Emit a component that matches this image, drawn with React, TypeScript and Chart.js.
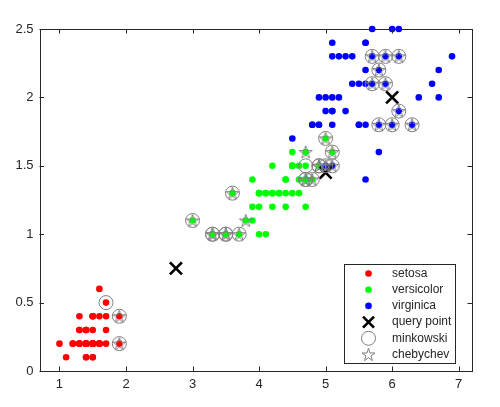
import React, { useEffect, useRef } from "react";
import { Chart, registerables } from "chart.js";

Chart.register(...registerables);

// Fisher iris: petal length (cm) and petal width (cm)
const setosaLength = [1.4,1.4,1.3,1.5,1.4,1.7,1.4,1.5,1.4,1.5,1.5,1.6,1.4,1.1,1.2,1.5,1.3,1.4,1.7,1.5,1.7,1.5,1.0,1.7,1.9,1.6,1.6,1.5,1.4,1.6,1.6,1.5,1.5,1.4,1.5,1.2,1.3,1.4,1.3,1.5,1.3,1.3,1.3,1.6,1.9,1.4,1.6,1.4,1.5,1.4];
const setosaWidth = [0.2,0.2,0.2,0.2,0.2,0.4,0.3,0.2,0.2,0.1,0.2,0.2,0.1,0.1,0.2,0.4,0.4,0.3,0.3,0.3,0.2,0.4,0.2,0.5,0.2,0.2,0.4,0.2,0.2,0.2,0.2,0.4,0.1,0.2,0.2,0.2,0.2,0.1,0.2,0.2,0.3,0.3,0.2,0.6,0.4,0.3,0.2,0.2,0.2,0.2];
const versicolorLength = [4.7,4.5,4.9,4.0,4.6,4.5,4.7,3.3,4.6,3.9,3.5,4.2,4.0,4.7,3.6,4.4,4.5,4.1,4.5,3.9,4.8,4.0,4.9,4.7,4.3,4.4,4.8,5.0,4.5,3.5,3.8,3.7,3.9,5.1,4.5,4.5,4.7,4.4,4.1,4.0,4.4,4.6,4.0,3.3,4.2,4.2,4.2,4.3,3.0,4.1];
const versicolorWidth = [1.4,1.5,1.5,1.3,1.5,1.3,1.6,1.0,1.3,1.4,1.0,1.5,1.0,1.4,1.3,1.4,1.5,1.0,1.5,1.1,1.8,1.3,1.5,1.2,1.3,1.4,1.4,1.7,1.5,1.0,1.1,1.0,1.2,1.6,1.5,1.6,1.5,1.3,1.3,1.3,1.2,1.4,1.2,1.0,1.3,1.2,1.3,1.3,1.1,1.3];
const virginicaLength = [6.0,5.1,5.9,5.6,5.8,6.6,4.5,6.3,5.8,6.1,5.1,5.3,5.5,5.0,5.1,5.3,5.5,6.7,6.9,5.0,5.7,4.9,6.7,4.9,5.7,6.0,4.8,4.9,5.6,5.8,6.1,6.4,5.6,5.1,5.6,6.1,5.6,5.5,4.8,5.4,5.6,5.1,5.1,5.9,5.7,5.2,5.0,5.2,5.4,5.1];
const virginicaWidth = [2.5,1.9,2.1,1.8,2.2,2.1,1.7,1.8,1.8,2.5,2.0,1.9,2.1,2.0,2.4,2.3,1.8,2.2,2.3,1.5,2.3,2.0,2.0,1.8,2.1,1.8,1.8,1.8,2.1,1.6,1.9,2.0,2.2,1.5,1.4,2.3,2.4,1.8,1.8,2.1,2.4,2.3,1.9,2.3,2.5,2.3,1.9,2.0,2.3,1.8];

// query points
const queryX = [5, 6, 2.75];
const queryY = [1.45, 2, 0.75];

// nearest neighbours (k = 10 per query point)
const minkowskiX = [5.0,4.9,4.9,5.1,5.1,4.8,5.0,4.7,4.7,4.7, 5.9,6.1,5.8,5.8,6.0,5.7,5.9,6.1,5.7,6.3, 3.0,3.3,3.3,3.5,3.5,3.7,3.6,1.9,1.9,1.7];
const minkowskiY = [1.5,1.5,1.5,1.5,1.6,1.4,1.7,1.4,1.4,1.5, 2.1,1.9,2.2,1.8,1.8,2.3,2.3,2.3,2.1,1.8, 1.1,1.0,1.0,1.0,1.0,1.0,1.3,0.4,0.2,0.5];
const chebychevX = [5.0,4.9,4.9,5.1,5.1,4.8,5.0,4.7,4.7,4.7, 5.9,6.1,5.8,5.8,6.0,5.7,5.9,6.1,5.7,6.3, 3.0,3.3,3.3,3.5,3.5,3.7,3.6,1.9,1.9,3.8];
const chebychevY = [1.5,1.5,1.5,1.5,1.6,1.4,1.7,1.4,1.4,1.6, 2.1,1.9,2.2,1.8,1.8,2.3,2.3,2.3,2.1,1.8, 1.1,1.0,1.0,1.0,1.0,1.0,1.3,0.4,0.2,1.1];

const xTicks = [1, 2, 3, 4, 5, 6, 7];
const yTicks = [0, 0.5, 1, 1.5, 2, 2.5];
const legendLabels = ["setosa", "versicolor", "virginica", "query point", "minkowski", "chebychev"];

const FONT = '"Liberation Sans", Arial, Helvetica, sans-serif';
const AXIS_COLOR = "#262626";
const GRAY = "#808080";

const pts = (xs: number[], ys: number[]) => xs.map((x, i) => ({ x, y: ys[i] }));

function drawPentagram(ctx: CanvasRenderingContext2D, cx: number, cy: number, r: number) {
  const inner = r * 0.382;
  ctx.beginPath();
  for (let i = 0; i < 10; i++) {
    const rad = i % 2 === 0 ? r : inner;
    const a = -Math.PI / 2 + (i * Math.PI) / 5;
    const px = cx + rad * Math.cos(a);
    const py = cy + rad * Math.sin(a);
    if (i === 0) ctx.moveTo(px, py);
    else ctx.lineTo(px, py);
  }
  ctx.closePath();
  ctx.stroke();
}

function makeStarImage(): HTMLCanvasElement {
  const c = document.createElement("canvas");
  c.width = 16;
  c.height = 16;
  const g = c.getContext("2d")!;
  g.strokeStyle = GRAY;
  g.lineWidth = 1;
  drawPentagram(g, 8, 8.6, 6.8);
  return c;
}

const framePlugin = {
  id: "matlabFrame",
  afterDatasetsDraw(chart: any) {
    const { ctx, chartArea } = chart;
    const xs = chart.scales.x;
    const ys = chart.scales.y;
    const L = chartArea.left, R = chartArea.right, T = chartArea.top, B = chartArea.bottom;
    ctx.save();
    ctx.strokeStyle = AXIS_COLOR;
    ctx.lineWidth = 1;
    ctx.strokeRect(Math.round(L) + 0.5, Math.round(T) + 0.5, Math.round(R) - Math.round(L), Math.round(B) - Math.round(T));
    const tl = 4.5;
    ctx.beginPath();
    xTicks.forEach((v) => {
      const px = Math.round(xs.getPixelForValue(v)) + 0.5;
      ctx.moveTo(px, B);
      ctx.lineTo(px, B - tl);
      ctx.moveTo(px, T);
      ctx.lineTo(px, T + tl);
    });
    yTicks.forEach((v) => {
      const py = Math.round(ys.getPixelForValue(v)) + 0.5;
      ctx.moveTo(L, py);
      ctx.lineTo(L + tl, py);
      ctx.moveTo(R, py);
      ctx.lineTo(R - tl, py);
    });
    ctx.stroke();

    // legend box
    const bx = 344.5, by = 264.5, bw = 111, bh = 99;
    ctx.fillStyle = "#ffffff";
    ctx.fillRect(bx, by, bw, bh);
    ctx.strokeStyle = AXIS_COLOR;
    ctx.strokeRect(bx, by, bw, bh);
    const mx = 368.5;
    const tx = 392;
    const y0 = 273.5, dy = 16.2;
    ctx.font = `12px ${FONT}`;
    ctx.textBaseline = "middle";
    ctx.textAlign = "left";
    legendLabels.forEach((lab, i) => {
      const y = y0 + i * dy;
      if (i < 3) {
        ctx.fillStyle = ["#ff0000", "#00ff00", "#0000ff"][i];
        ctx.beginPath();
        ctx.arc(mx, y, 3.3, 0, Math.PI * 2);
        ctx.fill();
      } else if (i === 3) {
        ctx.strokeStyle = "#000000";
        ctx.lineWidth = 2.7;
        const h = 5.5;
        ctx.beginPath();
        ctx.moveTo(mx - h, y - h);
        ctx.lineTo(mx + h, y + h);
        ctx.moveTo(mx - h, y + h);
        ctx.lineTo(mx + h, y - h);
        ctx.stroke();
      } else if (i === 4) {
        ctx.strokeStyle = GRAY;
        ctx.lineWidth = 1;
        ctx.beginPath();
        ctx.arc(mx, y, 7, 0, Math.PI * 2);
        ctx.stroke();
      } else {
        ctx.strokeStyle = GRAY;
        ctx.lineWidth = 1;
        drawPentagram(ctx, mx, y + 0.6, 6.8);
      }
      ctx.fillStyle = AXIS_COLOR;
      ctx.fillText(lab, tx, y);
    });
    ctx.restore();
  },
};

export default function App() {
  const ref = useRef<HTMLCanvasElement | null>(null);

  useEffect(() => {
    if (!ref.current) return;
    const star = makeStarImage();
    const dot = (color: string, order: number, label: string, data: any[]) => ({
      label,
      data,
      order,
      clip: false,
      pointStyle: "circle",
      pointRadius: 3.3,
      pointBorderWidth: 0,
      pointBackgroundColor: color,
      pointBorderColor: color,
      showLine: false,
    });
    const chart = new Chart(ref.current, {
      type: "scatter",
      data: {
        datasets: [
          dot("#ff0000", 5, "setosa", pts(setosaLength, setosaWidth)),
          dot("#00ff00", 4, "versicolor", pts(versicolorLength, versicolorWidth)),
          dot("#0000ff", 3, "virginica", pts(virginicaLength, virginicaWidth)),
          {
            label: "query point",
            data: pts(queryX, queryY),
            order: 2,
            clip: false,
            pointStyle: "crossRot",
            pointRadius: 8.5,
            pointBorderWidth: 2.7,
            pointBorderColor: "#000000",
            pointBackgroundColor: "#000000",
            showLine: false,
          },
          {
            label: "minkowski",
            data: pts(minkowskiX, minkowskiY),
            order: 1,
            clip: false,
            pointStyle: "circle",
            pointRadius: 7,
            pointBorderWidth: 1,
            pointBorderColor: GRAY,
            pointBackgroundColor: "rgba(0,0,0,0)",
            showLine: false,
          },
          {
            label: "chebychev",
            data: pts(chebychevX, chebychevY),
            order: 0,
            clip: false,
            pointStyle: star as any,
            pointRadius: 7,
            showLine: false,
          },
        ] as any,
      },
      options: {
        animation: false,
        responsive: false,
        devicePixelRatio: 1,
        layout: { padding: { top: 29, right: 28, left: 0, bottom: 0 } },
        plugins: {
          legend: { display: false },
          tooltip: { enabled: false },
        },
        scales: {
          x: {
            type: "linear",
            min: 0.7,
            max: 7.2,
            grid: { display: false, drawTicks: false },
            border: { display: false },
            afterFit: (s: any) => {
              s.height = 36;
            },
            afterBuildTicks: (s: any) => {
              s.ticks = xTicks.map((v) => ({ value: v }));
            },
            ticks: {
              padding: 6,
              color: AXIS_COLOR,
              font: { family: FONT, size: 13 },
              maxRotation: 0,
              autoSkip: false,
              callback: (v: any) => String(Number(v)),
            },
          },
          y: {
            type: "linear",
            min: 0,
            max: 2.5,
            grid: { display: false, drawTicks: false },
            border: { display: false },
            afterFit: (s: any) => {
              s.width = 39.5;
            },
            afterBuildTicks: (s: any) => {
              s.ticks = yTicks.map((v) => ({ value: v }));
            },
            ticks: {
              padding: 6,
              color: AXIS_COLOR,
              font: { family: FONT, size: 13 },
              autoSkip: false,
              callback: (v: any) => String(Number(v)),
            },
          },
        },
      } as any,
      plugins: [framePlugin],
    });
    return () => chart.destroy();
  }, []);

  return (
    <div style={{ position: "fixed", left: 0, top: 0, width: 500, height: 407, background: "#ffffff" }}>
      <canvas ref={ref} width={500} height={407} style={{ display: "block", width: 500, height: 407 }} />
    </div>
  );
}
